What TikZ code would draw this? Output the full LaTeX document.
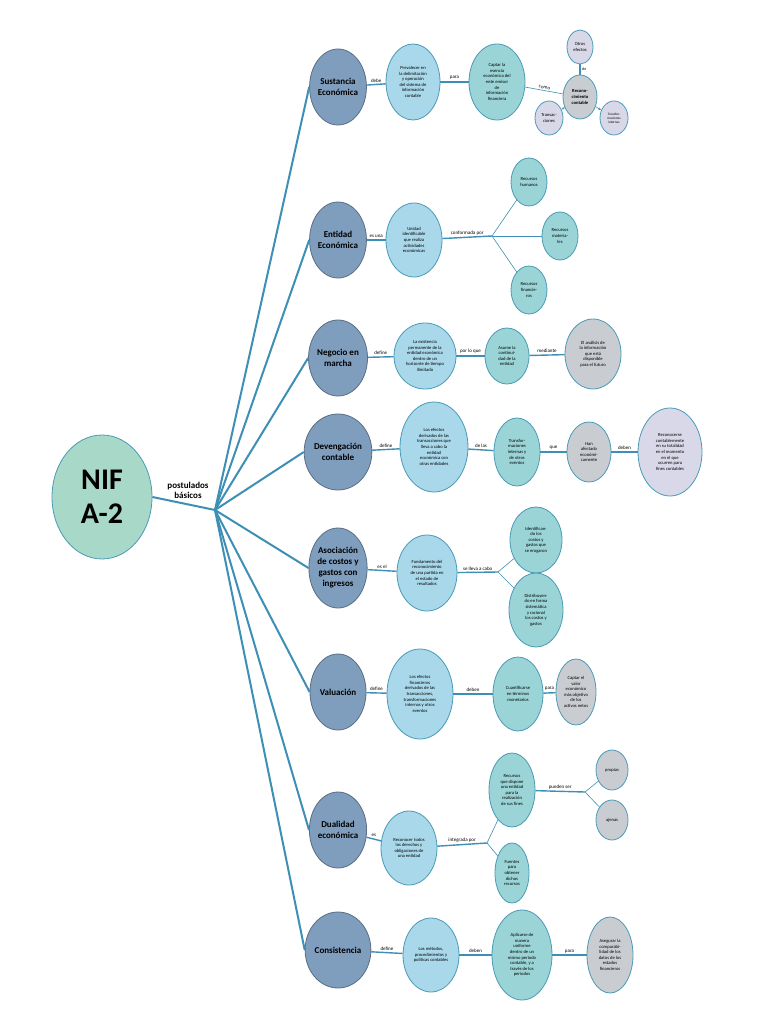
\documentclass[tikz,border=0pt]{standalone}
\usepackage{fontspec}
\setmainfont{Carlito}
\usetikzlibrary{shapes.geometric,arrows.meta}
\definecolor{mainc}{HTML}{7F9DBD}
\definecolor{lblue}{HTML}{A8D8EA}
\definecolor{teal}{HTML}{9AD4D6}
\definecolor{gry}{HTML}{C9CDD1}
\definecolor{lav}{HTML}{D8D8E8}
\definecolor{nifc}{HTML}{A8D8C8}
\definecolor{linec}{HTML}{3E8FB5}
\definecolor{bord}{HTML}{4A9AB8}
\tikzset{
 el/.style={ellipse,draw=bord,line width=0.8pt,align=center,inner sep=0pt,font=\fontsize{4.6}{5.6}\selectfont},
 mn/.style={el,fill=mainc,draw=mainc!70!black,font=\fontsize{9}{11}\selectfont\bfseries,minimum width=56pt,minimum height=76pt},
 lab/.style={above,inner sep=1.5pt,font=\fontsize{5}{6}\selectfont},
 cn/.style={draw=linec,line width=1.4pt},
 thin/.style={draw=linec,line width=0.6pt},
 hubl/.style={draw=linec,line width=2pt}
}
\newcommand{\E}[6]{\node[el,fill=#4,minimum width=#5pt,minimum height=#6pt] (#1) at (#2) {#3};}
\begin{document}
\begin{tikzpicture}[x=1pt,y=-1pt]
\useasboundingbox (0,0) rectangle (768,1024);
\fill[white] (0,0) rectangle (768,1024);
% NIF
\node[el,fill=nifc,draw=bord,minimum width=100pt,minimum height=124pt,font=\fontsize{30}{34}\selectfont\bfseries] (nif) at (102,497) {NIF\\A-2};
\node[font=\fontsize{9}{10}\selectfont\bfseries,align=center] (pb) at (188,490) {postulados\\básicos};
\coordinate (hub) at (215,510);
\draw[hubl] (nif.east) -- (hub);
% main nodes
\node[mn] (m1) at (338,87) {Sustancia\\Económica};
\node[mn] (m2) at (338,240) {Entidad\\Económica};
\node[mn] (m3) at (338,358) {Negocio en\\marcha};
\node[mn] (m4) at (338,452) {Devengación\\contable};
\node[mn,minimum width=58pt,minimum height=80pt] (m5) at (338,568) {Asociación\\de costos y\\gastos con\\ingresos};
\node[mn] (m6) at (338,692) {Valuación};
\node[mn] (m7) at (338,830) {Dualidad\\económica};
\node[mn] (m8) at (338,950) {Consistencia};
\foreach \m in {m1,m2,m3,m4,m5,m6,m7,m8} {\draw[hubl] (hub) -- (\m.west);}
% row 1
\E{a1}{413,82}{Prevalecer en\\la delimitación\\y operación\\del sistema de\\información\\contable}{lblue}{54}{76}
\E{a2}{497,82}{Captar la\\esencia\\económica del\\ente emisor\\de\\información\\financiera}{teal}{56}{76}
\E{rc}{580,97}{\textbf{Recono-}\\\textbf{cimiento}\\\textbf{contable}}{gry}{34}{44}
\E{oe}{580,47}{Otros\\efectos}{lav}{26}{34}
\E{tr}{549,118}{Transac-\\ciones}{lav}{28}{34}
\node[el,fill=lav,minimum width=28pt,minimum height=34pt,font=\fontsize{3.4}{4}\selectfont] (ti) at (614,118) {Transfor-\\maciones\\internas};
\draw[cn] (m1) -- node[lab]{debe} (a1);
\draw[cn] (a1) -- node[lab]{para} (a2);
\draw[thin] (a2) -- node[lab,sloped]{como} (rc);
\draw[cn] (rc) -- node[lab,right,font=\fontsize{4}{5}\selectfont]{de} (oe);
\draw[thin,-{Stealth[length=3pt]}] (rc) -- (tr);
\draw[thin,-{Stealth[length=3pt]}] (rc) -- (ti);
% row 2
\E{b1}{414,240}{Unidad\\identificable\\que realiza\\actividades\\económicas}{lblue}{56}{74}
\E{b2}{529,182}{Recursos\\humanos}{teal}{36}{48}
\E{b3}{560,236}{Recursos\\materia-\\les}{teal}{36}{48}
\E{b4}{529,290}{Recursos\\financie-\\ros}{teal}{36}{48}
\coordinate (br2) at (492,236);
\draw[cn] (m2) -- node[lab]{es una} (b1);
\draw[cn] (b1) -- node[lab]{conformada por} (br2);
\draw[thin] (br2) -- (b2); \draw[thin] (br2) -- (b3); \draw[thin] (br2) -- (b4);
% row 3
\E{c1}{425,356}{La existencia\\permanente de la\\entidad económica\\dentro de un\\horizonte de tiempo\\ilimitado}{lblue}{62}{66}
\E{c2}{507,356}{Asume la\\continui-\\dad de la\\entidad}{teal}{44}{56}
\E{c3}{593,354}{El análisis de\\la información\\que está\\disponible\\para el futuro}{gry}{56}{70}
\draw[cn] (m3) -- node[lab]{define} (c1);
\draw[cn] (c1) -- node[lab]{por lo que} (c2);
\draw[cn] (c2) -- node[lab]{mediante} (c3);
% row 4
\E{d1}{434,447}{Los efectos\\derivados de las\\transacciones que\\lleva a cabo la\\entidad\\económica con\\otras entidades}{lblue}{68}{90}
\E{d2}{517,452}{Transfor-\\maciones\\internas y\\de otros\\eventos}{teal}{46}{68}
\E{d3}{589,452}{Han\\afectado\\económi-\\camente}{gry}{44}{60}
\E{d4}{670,452}{Reconocerse\\contablemente\\en su totalidad\\en el momento\\en el que\\ocurren para\\fines contables}{lav}{64}{88}
\draw[cn] (m4) -- node[lab]{define} (d1);
\draw[cn] (d1) -- node[lab]{de las} (d2);
\draw[cn] (d2) -- node[lab]{que} (d3);
\draw[cn] (d3) -- node[lab]{deben} (d4);
% row 5
\E{e1}{427,573}{Fundamento del\\reconocimiento\\de una partida en\\el estado de\\resultados}{lblue}{60}{76}
\E{e2}{536,540}{Identifican-\\do los\\costos y\\gastos que\\se erogaron}{teal}{52}{66}
\E{e3}{536,610}{Distribuyen-\\do en forma\\sistemática\\y racional\\los costos y\\gastos}{teal}{54}{74}
\coordinate (br5) at (498,572);
\draw[cn] (m5) -- node[lab]{es el} (e1);
\draw[cn] (e1) -- node[lab]{se lleva a cabo} (br5);
\draw[thin] (br5) -- (e2); \draw[thin] (br5) -- (e3);
% row 6
\E{f1}{420,694}{Los efectos\\financieros\\derivados de las\\transacciones,\\transformaciones\\internas y otros\\eventos}{lblue}{66}{90}
\E{f2}{518,694}{Cuantificarse\\en términos\\monetarios}{teal}{50}{74}
\E{f3}{576,692}{Captar el\\valor\\económico\\más objetivo\\de los\\activos netos}{gry}{40}{66}
\draw[cn] (m6) -- node[lab]{define} (f1);
\draw[cn] (f1) -- node[lab]{deben} (f2);
\draw[cn] (f2) -- node[lab]{para} (f3);
% row 7
\E{g1}{409,848}{Reconocer todos\\los derechos y\\obligaciones de\\una entidad}{lblue}{56}{74}
\E{g2}{512,790}{Recursos\\que dispone\\una entidad\\para la\\realización\\de sus fines}{teal}{46}{74}
\E{g3}{512,873}{Fuentes\\para\\obtener\\dichos\\recursos}{teal}{34}{60}
\E{g4}{612,770}{propias}{gry}{32}{40}
\E{g5}{612,820}{ajenas}{gry}{32}{40}
\coordinate (br7) at (487,843);
\coordinate (br7b) at (585,792);
\draw[cn] (m7) -- node[lab]{es} (g1);
\draw[cn] (g1) -- node[lab]{integrada por} (br7);
\draw[thin] (br7) -- (g2); \draw[thin] (br7) -- (g3);
\draw[cn] (g2) -- node[lab]{pueden ser} (br7b);
\draw[thin] (br7b) -- (g4); \draw[thin] (br7b) -- (g5);
% row 8
\E{h1}{431,955}{Los métodos,\\procedimientos y\\políticas contables}{lblue}{56}{74}
\E{h2}{522,955}{Aplicarse de\\manera\\uniforme\\dentro de un\\mismo periodo\\contable, y a\\través de los\\periodos}{teal}{60}{90}
\E{h3}{610,955}{Asegurar la\\comparabi-\\lidad de los\\datos de los\\estados\\financieros}{gry}{46}{76}
\draw[cn] (m8) -- node[lab]{define} (h1);
\draw[cn] (h1) -- node[lab]{deben} (h2);
\draw[cn] (h2) -- node[lab]{para} (h3);
\end{tikzpicture}
\end{document}
